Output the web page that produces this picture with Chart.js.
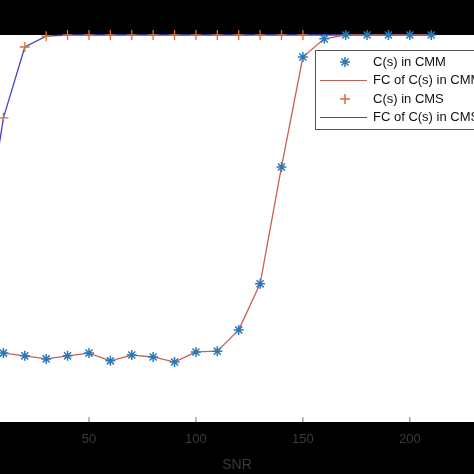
<!DOCTYPE html>
<html><head><meta charset="utf-8">
<script src="https://cdn.jsdelivr.net/npm/chart.js@4"></script>
<style>html,body{margin:0;background:#000}#wrap{width:474px;height:474px}</style>
</head><body><div id="wrap"><canvas id="c"></canvas></div>
<script>
const snr = [0,10,20,30,40,50,60,70,80,90,100,110,120,130,140,150,160,170,180,190,200,210];
const cmm = [null,0.178,0.171,0.163,0.171,0.178,0.158,0.173,0.168,0.155,0.181,0.183,0.238,0.357,0.659,0.943,0.99,1,1,1,1,1];
const cms = [0.43,0.786,0.969,0.997,1,1,1,1,1,1,1,1,1,1,1,1,1,1,1,1,1,1];
const cmsMarks = cms.map((v,i)=> snr[i] <= 150 ? v : null);
const labels = ['C(s) in CMM','FC of C(s) in CMM','C(s) in CMS','FC of C(s) in CMS'];
const xTicks = [50,100,150,200];

const pts = arr => snr.map((x,i)=>({x, y: arr[i]}));

const legendBox = {
  id: 'legendBox',
  afterDraw(chart) {
    const c = chart.ctx;
    const x0 = 315, y0 = 50, w = 170, h = 79;
    c.save();
    c.fillStyle = '#fff'; c.fillRect(x0, y0, w, h);
    c.strokeStyle = '#555'; c.lineWidth = 1; c.strokeRect(x0+0.5, y0+0.5, w, h);
    c.font = '13px Arial, "Liberation Sans", sans-serif';
    c.textBaseline = 'middle';
    labels.forEach((t, i) => {
      const y = y0 + 12 + i * 18.5;
      const ds = chart.data.datasets[i];
      c.strokeStyle = ds.borderColor; c.fillStyle = ds.borderColor;
      if (i % 2 === 1) {
        c.lineWidth = 1.2;
        c.beginPath(); c.moveTo(x0 + 5, y); c.lineTo(x0 + 52, y); c.stroke();
      } else {
        c.lineWidth = 1.5;
        c.beginPath();
        if (i === 0) {
          for (let a = 0; a < 4; a++) {
            const an = a * Math.PI / 4;
            c.moveTo(x0+30 - 5*Math.cos(an), y - 5*Math.sin(an));
            c.lineTo(x0+30 + 5*Math.cos(an), y + 5*Math.sin(an));
          }
        } else {
          c.moveTo(x0+25, y); c.lineTo(x0+35, y);
          c.moveTo(x0+30, y-5); c.lineTo(x0+30, y+5);
        }
        c.stroke();
      }
      c.fillStyle = '#111';
      c.fillText(t, x0 + 58, y);
    });
    c.restore();
  }
};

new Chart(document.getElementById('c'), {
  type: 'line',
  data: {
    datasets: [
      { label: labels[0], data: pts(cmm), showLine: false, pointStyle: 'star', pointRadius: 5,
        borderColor: '#2a78b8', backgroundColor: '#2a78b8', borderWidth: 1.5, order: 0 },
      { label: labels[1], data: pts(cmm), pointRadius: 0, borderColor: '#c8605a', borderWidth: 1.3, order: 2 },
      { label: labels[2], data: pts(cmsMarks), showLine: false, pointStyle: 'cross', pointRadius: 5,
        borderColor: '#d2703a', borderWidth: 1.3, order: 1 },
      { label: labels[3], data: pts(cms), pointRadius: 0, borderColor: '#4545c5', borderWidth: 1.3, order: 3 }
    ]
  },
  options: {
    responsive: true, maintainAspectRatio: false, animation: false,
    clip: false,
    layout: { autoPadding: false, padding: { top: 35, left: 0, right: 0, bottom: 0 } },
    plugins: { legend: { display: false }, tooltip: { enabled: false } },
    scales: {
      x: {
        type: 'linear', min: 8.4, max: 230,
        afterBuildTicks: ax => { ax.ticks = xTicks.map(v => ({ value: v })); },
        afterFit: ax => { ax.height = 52; },
        grid: { drawOnChartArea: false, color: '#000', tickLength: 6 },
        border: { display: false },
        ticks: { color: '#3a3a3a', font: { size: 13, family: 'Arial' }, padding: 4 },
        title: { display: true, text: 'SNR', color: '#3a3a3a', font: { size: 14, family: 'Arial' }, padding: 0 }
      },
      y: { display: false, min: 0, max: 1 }
    }
  },
  plugins: [{
    id: 'bg',
    beforeDraw(chart) {
      const { ctx, chartArea: a } = chart;
      ctx.save();
      ctx.fillStyle = '#000'; ctx.fillRect(0, 0, chart.width, chart.height);
      ctx.fillStyle = '#fff'; ctx.fillRect(a.left, a.top, a.right - a.left, a.bottom - a.top);
      ctx.strokeStyle = '#777'; ctx.lineWidth = 1;
      xTicks.forEach(v => {
        const x = chart.scales.x.getPixelForValue(v);
        ctx.beginPath(); ctx.moveTo(x, a.bottom); ctx.lineTo(x, a.bottom - 5); ctx.stroke();
      });
      ctx.restore();
    }
  }, legendBox]
});
</script></body></html>
